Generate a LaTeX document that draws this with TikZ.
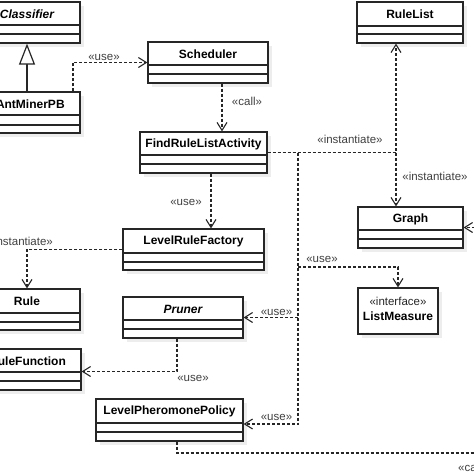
\documentclass[tikz,border=0pt]{standalone}
\usepackage{fontspec}
\setmainfont{Liberation Sans}
\usetikzlibrary{arrows.meta,fit}
\tikzset{
  clsbox/.style={draw=black!85, line width=1.2pt, fill=white, inner sep=0pt},
  shadowc/.style={fill=black!7},
  cline/.style={draw=black!85, line width=1.2pt},
  ttl/.style={font=\bfseries\fontsize{12}{14}\selectfont, inner sep=0pt},
  ttli/.style={font=\bfseries\itshape\fontsize{12}{14}\selectfont, inner sep=0pt},
  lbl/.style={font=\fontsize{11.5}{13}\selectfont, text=black!75, inner sep=0pt},
  depline/.style={draw=black!85, line width=1.2pt, dash pattern=on 3pt off 2pt},
  dep/.style={depline, -{Straight Barb[length=8pt,width=10pt,line width=1.1pt]}},
  inh/.style={draw=black!85, line width=1.2pt, -{Triangle[open,length=21pt,width=16pt,line width=1.2pt,fill=white]}}
}
\newcommand\umlcls[9]{% name x1 y1 x2 y2 l1 l2 title style
  \fill[shadowc] (#2+4,#3+4) rectangle (#4+4,#5+4);
  \node[clsbox, fit={(#2,#3) (#4,#5)}] (#1) {};
  \draw[cline] (#2,#6) -- (#4,#6);
  \draw[cline] (#2,#7) -- (#4,#7);
  \node[#9] at ({(#2+#4)/2},{(#3+#6)/2+0.5}) {#8};
}
\begin{document}
\begin{tikzpicture}[x=1pt,y=-1pt]
\useasboundingbox (0,0) rectangle (474,474);
\fill[white] (0,0) rectangle (474,474);
\clip (0,0) rectangle (474,474);

% classes
\umlcls{classifier}{-26}{2}{80}{43}{25}{34}{Classifier}{ttli}
\umlcls{antminer}{-26}{92}{80}{133}{115}{125}{cAntMinerPB}{ttl}
\umlcls{scheduler}{148}{42}{268}{83}{65}{74}{Scheduler}{ttl}
\umlcls{frla}{140}{132}{267}{173}{155}{164}{FindRuleListActivity}{ttl}
\umlcls{rulelist}{357}{2}{463}{43}{26}{34}{RuleList}{ttl}
\umlcls{graph}{358}{207}{463}{248}{230}{239}{Graph}{ttl}
\umlcls{lrf}{123}{229}{264}{270}{253}{262}{LevelRuleFactory}{ttl}
\umlcls{rule}{-26}{289}{80}{330}{313}{322}{Rule}{ttl}
\umlcls{pruner}{123}{297}{243}{338}{320}{329}{Pruner}{ttli}
\umlcls{rf}{-26}{349}{81}{390}{372}{381}{RuleFunction}{ttl}
\umlcls{lpp}{96}{399}{243}{441}{423}{432}{LevelPheromonePolicy}{ttl}

% interface box
\fill[shadowc] (362,292) rectangle (442,338);
\node[clsbox, fit={(358,288) (438,334)}] (lm) {};
\node[lbl, text=black!85] at (398,301) {«interface»};
\node[ttl] at (398,316) {ListMeasure};

% junction coordinates
\coordinate (jr) at (396,152.5);
\coordinate (vtop) at (298,152.5);
\coordinate (jlm) at (298,267);
\coordinate (gext) at (490,227.5);
\coordinate (callend) at (490,453);

% connectors
\draw[inh] (antminer.north) -- (classifier.south);
\draw[dep] ([xshift=46pt]antminer.north) |- (scheduler.west);
\node[lbl] at (104,57) {«use»};

\draw[dep] ([xshift=14pt]scheduler.south) coordinate (c1) -- (c1 |- frla.north);
\node[lbl] at (247,101) {«call»};

\draw[dep] (frla.east) -| ([xshift=-14pt]rulelist.south);
\node[lbl] at (350,139) {«instantiate»};
\draw[dep] (jr) -- (jr |- graph.north);
\node[lbl] at (435,176) {«instantiate»};

\draw[dep] ([xshift=7.5pt]frla.south) coordinate (c2) -- (c2 |- lrf.north);
\node[lbl] at (186,202) {«use»};

\draw[dep] (lrf.west) -| (rule.north);
\node[lbl, anchor=east] at (53,241) {«instantiate»};

\draw[dep] (vtop) |- ([yshift=-4pt]lpp.east);
\draw[dep] (vtop |- pruner.east) -- (pruner.east);
\draw[dep] (jlm) -| (lm.north);
\node[lbl] at (322,259) {«use»};
\node[lbl] at (276.5,312) {«use»};
\node[lbl] at (276.5,417) {«use»};

\draw[dep] ([xshift=-6pt]pruner.south) |- ([yshift=-2pt]rf.east);
\node[lbl] at (193,378) {«use»};

\draw[depline] ([xshift=7.5pt]lpp.south) |- (callend);
\node[lbl, anchor=west] at (458,467) {«call»};

\draw[dep] (gext) -- (graph.east);
\end{tikzpicture}
\end{document}
